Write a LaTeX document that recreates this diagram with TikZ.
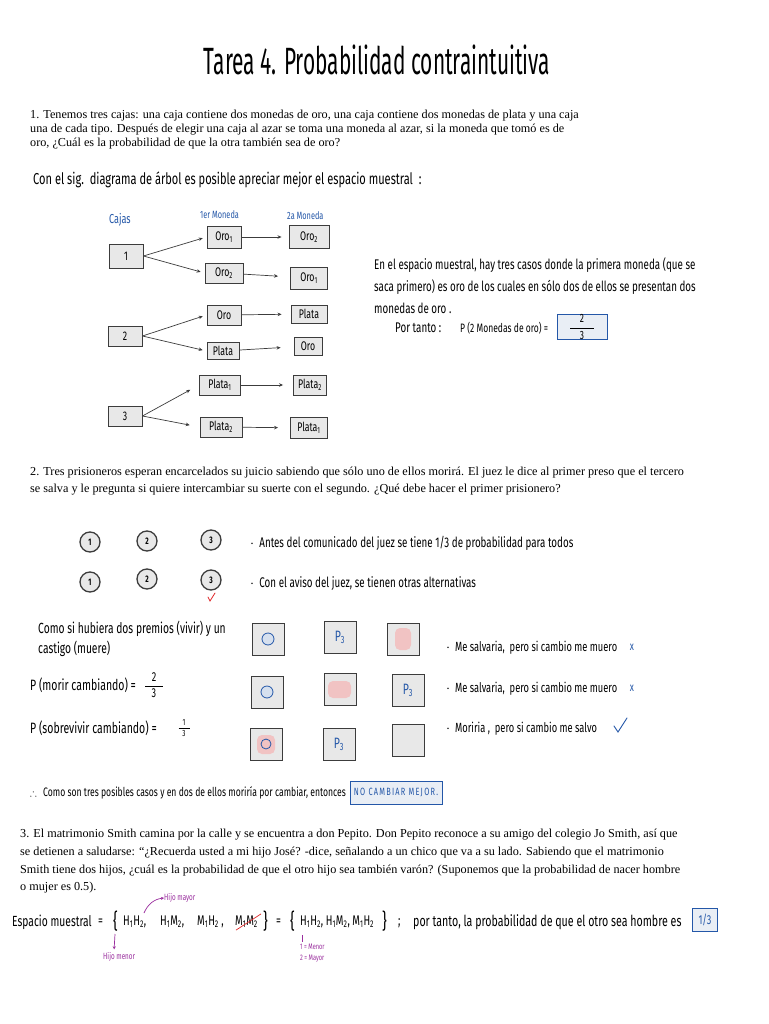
\documentclass[tikz,border=0pt]{standalone}
\usepackage{amsmath,amssymb}
\usepackage{fontspec}
\setmainfont{Liberation Serif}
\newfontfamily\handfont[FakeStretch=0.7]{Fira Sans}
\newfontfamily\titlefont[FakeStretch=0.55]{Fira Sans}
\usetikzlibrary{arrows.meta,calc}
\definecolor{inkblue}{HTML}{2457A8}
\definecolor{boxgray}{HTML}{E8E8E8}
\definecolor{edgegray}{HTML}{3C3C3C}
\definecolor{answerfill}{HTML}{E9EEF5}
\definecolor{blobpink}{HTML}{F1C3C3}
\definecolor{circfill}{HTML}{D6E0EE}
\definecolor{inkred}{HTML}{E0282A}
\definecolor{inkpurple}{HTML}{9A2E9E}
\newcommand{\handat}[2]{\handfont\fontsize{#1}{#2}\selectfont}
\newcommand{\handfrac}[3]{$\displaystyle\frac{\text{\makebox[#1]{#2}}}{\text{#3}}$}

\begin{document}
\begin{tikzpicture}[x=1pt,y=-1pt,
  treebox/.style={draw=edgegray,fill=boxgray,line width=0.9pt,minimum width=34pt,minimum height=20pt,inner sep=1pt,font=\handat{12.5pt}{14pt}},
  prisoner/.style={circle,draw=edgegray,fill=boxgray,line width=1.3pt,minimum size=20pt,inner sep=0pt,font=\handat{9.5pt}{10pt}\bfseries},
  door/.style={draw=edgegray,fill=boxgray,line width=1pt,minimum size=32pt,inner sep=0pt},
  answer/.style={draw=inkblue,fill=answerfill,line width=0.9pt,text=inkblue,inner sep=2pt},
  hand/.style={anchor=west,inner sep=0pt,font=\handat{15pt}{17pt}},
  prose/.style={anchor=north west,align=left,inner sep=0pt},
  branch/.style={-{Stealth[length=4pt,width=3.5pt]},edgegray,line width=0.7pt,shorten >=4pt},
  note/.style={anchor=west,inner sep=0pt,text=inkpurple,font=\handat{9pt}{10pt}}]
\fill[white] (0,0) rectangle (768,1024);
\useasboundingbox (0,0) rectangle (768,1024);
\node[font=\titlefont\fontsize{38pt}{42pt}\selectfont] (title) at (377,60) {Tarea 4. Probabilidad contraintuitiva};

\node[prose,font=\fontsize{12.2pt}{14pt}\selectfont] (q1) at (30,110) {1. Tenemos tres cajas: una caja contiene dos monedas de oro, una caja contiene dos monedas de plata y una caja\\
una de cada tipo. Después de elegir una caja al azar se toma una moneda al azar, si la moneda que tomó es de\\
oro, ¿Cuál es la probabilidad de que la otra también sea de oro?};
\node[hand,font=\handat{15.8pt}{18pt}] (intro) at (33,180) {Con el sig.\ \ diagrama de árbol es posible apreciar mejor el espacio muestral \ :};

\node[hand,text=inkblue,font=\handat{13pt}{15pt}] (hcaja) at (109,220) {Cajas};
\node[hand,text=inkblue,font=\handat{10.5pt}{12pt}] (hfirst) at (200,215) {1er Moneda};
\node[hand,text=inkblue,font=\handat{10.5pt}{12pt}] (hsecond) at (287,216) {2a Moneda};
\node[treebox,minimum height=24pt] (c1) at (126,256) {1};
\node[treebox] (c2) at (125,336) {2};
\node[treebox] (c3) at (125,416) {3};
\node[treebox,minimum height=22pt] (m11) at (224,237) {Oro\textsubscript{1}};
\node[treebox,minimum width=38pt] (m12) at (224,273) {Oro\textsubscript{2}};
\node[treebox] (m21) at (224,315) {Oro};
\node[treebox,minimum width=32pt,minimum height=17pt] (m22) at (223,351) {Plata};
\node[treebox,minimum width=41pt] (m31) at (220,385) {Plata\textsubscript{1}};
\node[treebox,minimum width=42pt] (m32) at (221,427) {Plata\textsubscript{2}};
\node[treebox,minimum width=40pt,minimum height=23pt] (s11) at (309,237) {Oro\textsubscript{2}};
\node[treebox,minimum width=37pt,minimum height=22pt] (s12) at (309,278) {Oro\textsubscript{1}};
\node[treebox,minimum width=36pt,minimum height=18pt] (s21) at (309,314) {Plata};
\node[treebox,minimum width=28pt,minimum height=18pt] (s22) at (308,346) {Oro};
\node[treebox,minimum width=33pt] (s31) at (310,385) {Plata\textsubscript{2}};
\node[treebox,minimum width=37pt,minimum height=21pt] (s32) at (309,428) {Plata\textsubscript{1}};
\draw[branch] (c1.east) -- (m11.west);
\draw[branch] (c1.east) -- (m12.west);
\draw[branch] (c2.east) -- (m21.west);
\draw[branch] (c2.east) -- (m22.west);
\draw[branch,shorten >=10pt] (c3.east) -- (m31.west);
\draw[branch,shorten >=10pt] (c3.east) -- (m32.west);
\draw[branch,shorten >=7pt] (m11) -- (s11);
\draw[branch,shorten >=12pt] (m12) -- (s12);
\draw[branch,shorten >=9pt] (m21) -- (s21);
\draw[branch,shorten >=13pt] (m22) -- (s22);
\draw[branch,shorten >=10pt] (m31) -- (s31);
\draw[branch,shorten >=12pt] (m32) -- (s32);

\node[prose,font=\handat{14pt}{22pt}] (why) at (374,257) {En el espacio muestral, hay tres casos donde la primera moneda (que se\\
saca primero) es oro de los cuales en sólo dos de ellos se presentan dos\\
monedas de oro .};
\node[hand,font=\handat{14pt}{16pt}] (portanto) at (395,328) {Por tanto :};
\node[hand,font=\handat{12.2pt}{14pt}] (pgold) at (460,328) {P (2 Monedas de oro) =};
\node[answer,minimum width=50pt,minimum height=25pt,inner sep=0pt,text=black,font=\handat{12pt}{12pt}] (a1) at (582,327) {\handfrac{24pt}{2}{3}};

\node[prose,font=\fontsize{12.2pt}{17pt}\selectfont] (q2) at (30,467) {2. Tres prisioneros esperan encarcelados su juicio sabiendo que sólo uno de ellos morirá. El juez le dice al primer preso que el tercero\\
se salva y le pregunta si quiere intercambiar su suerte con el segundo. ¿Qué debe hacer el primer prisionero?};
\node[prisoner] (pa1) at (90,542) {1};
\node[prisoner] (pa2) at (147,541) {2};
\node[prisoner] (pa3) at (211,540) {3};
\node[prisoner] (pb1) at (90,582) {1};
\node[prisoner] (pb2) at (147,579) {2};
\node[prisoner] (pb3) at (211,580) {3};
\draw[inkred,line width=0.8pt,line cap=round] (208,597) -- (210,601) -- (215,593);
\node[hand,font=\handat{14pt}{16pt}] (before) at (250,543) {$\cdot$\ \ Antes del comunicado del juez se tiene 1/3 de probabilidad para todos};
\node[hand,font=\handat{14pt}{16pt}] (after) at (250,584) {$\cdot$\ \ Con el aviso del juez, se tienen otras alternativas};

\node[prose,font=\handat{14.7pt}{20pt}] (prizes) at (38,621) {Como si hubiera dos premios (vivir) y un\\ castigo (muere)};
\node[hand] (pdie) at (30,685) {P (morir cambiando) =};
\node[inner sep=0pt,font=\handat{13pt}{13pt}] (fdie) at (154,685) {\handfrac{18pt}{2}{3}};
\node[hand] (plive) at (30,728) {P (sobrevivir cambiando) =};
\node[inner sep=0pt,font=\handat{9pt}{9pt}] (flive) at (184,728) {\handfrac{11pt}{1}{3}};

\node[door] (sq11) at (268,639) {};
\node[door] (sq12) at (340,637) {};
\node[door] (sq13) at (403,639) {};
\node[door] (sq21) at (267,692) {};
\node[door] (sq22) at (340,689) {};
\node[door] (sq23) at (408,690) {};
\node[door] (sq31) at (266,744) {};
\node[door] (sq32) at (339,744) {};
\node[door] (sq33) at (408,740) {};
\draw[inkblue,fill=circfill,line width=0.8pt] (sq11.center) circle (6pt);
\node[text=inkblue,font=\handat{15pt}{16pt}] (p3a) at (sq12) {P\textsubscript{3}};
\fill[blobpink,rounded corners=5pt] ($(sq13.center)+(-8,-11)$) rectangle ($(sq13.center)+(8,11)$);
\draw[inkblue,fill=circfill,line width=0.8pt] (sq21.center) circle (6pt);
\fill[blobpink,rounded corners=5pt] ($(sq22.center)+(-12,-8)$) rectangle ($(sq22.center)+(11,9)$);
\node[text=inkblue,font=\handat{15pt}{16pt}] (p3b) at (sq23) {P\textsubscript{3}};
\fill[blobpink,rounded corners=5pt] ($(sq31.center)+(-9,-9)$) rectangle ($(sq31.center)+(9,10)$);
\draw[inkblue,line width=0.8pt] (sq31.center) circle (5pt);
\node[text=inkblue,font=\handat{15pt}{16pt}] (p3c) at (sq32) {P\textsubscript{3}};

\node[hand,font=\handat{13.3pt}{16pt}] (case1) at (446,648) {$\cdot$\ \ Me salvaria, \ pero si cambio me muero};
\node[hand,font=\handat{13.3pt}{16pt}] (case2) at (446,689) {$\cdot$\ \ Me salvaria, \ pero si cambio me muero};
\node[hand,font=\handat{13.3pt}{16pt}] (case3) at (446,729) {$\cdot$\ \ Moriria , \ pero si cambio me salvo};
\node[text=inkblue,font=\handat{12pt}{13pt}] (bad1) at (632,647) {x};
\node[text=inkblue,font=\handat{12pt}{13pt}] (bad2) at (632,688) {x};
\draw[inkblue,line width=0.9pt,line cap=round] (614,726) -- (618,732) -- (627,718);

\node[anchor=west,inner sep=0pt] (ergo) at (30,793) {$\therefore$};
\node[hand,font=\handat{12.3pt}{14pt}] (summary) at (43,793) {Como son tres posibles casos y en dos de ellos moriría por cambiar, entonces};
\node[answer,minimum width=92pt,minimum height=23pt,font=\handat{10.5pt}{11pt}\addfontfeature{LetterSpace=12}] (a2) at (396,793) {NO CAMBIAR MEJOR.};

\node[prose,font=\fontsize{12.2pt}{17.7pt}\selectfont] (q3) at (20,829) {3. El matrimonio Smith camina por la calle y se encuentra a don Pepito. Don Pepito reconoce a su amigo del colegio Jo Smith, así que\\
se detienen a saludarse: “¿Recuerda usted a mi hijo José? -dice, señalando a un chico que va a su lado. Sabiendo que el matrimonio\\
Smith tiene dos hijos, ¿cuál es la probabilidad de que el otro hijo sea también varón? (Suponemos que la probabilidad de nacer hombre\\
o mujer es 0.5).};

\node[hand,font=\handat{14.7pt}{16pt}] (esp) at (12,922) {Espacio muestral};
\node[hand,font=\handat{14pt}{16pt}] (eq1) at (98,922) {=};
\node[hand,font=\handat{21pt}{23pt}] (br1) at (113,921) {\{};
\node[hand,font=\handat{14pt}{16pt}] (e1) at (123,922) {H\textsubscript{1}H\textsubscript{2},};
\node[hand,font=\handat{14pt}{16pt}] (e2) at (160,922) {H\textsubscript{1}M\textsubscript{2},};
\node[hand,font=\handat{14pt}{16pt}] (e3) at (197,922) {M\textsubscript{1}H\textsubscript{2} ,};
\node[hand,font=\handat{14pt}{16pt}] (e4) at (235,922) {M\textsubscript{1}M\textsubscript{2}};
\draw[inkred,line width=0.7pt] ($(e4.south west)+(1,2)$) -- ($(e4.north east)+(3,-2)$);
\node[hand,font=\handat{21pt}{23pt}] (br2) at (263,921) {\}};
\node[hand,font=\handat{14pt}{16pt}] (eq2) at (276,922) {=};
\node[hand,font=\handat{21pt}{23pt}] (br3) at (290,921) {\{};
\node[hand,font=\handat{14pt}{16pt}] (e5) at (300,922) {H\textsubscript{1}H\textsubscript{2}, H\textsubscript{1}M\textsubscript{2}, M\textsubscript{1}H\textsubscript{2}};
\node[hand,font=\handat{21pt}{23pt}] (br4) at (382,921) {\}};
\node[hand,font=\handat{14pt}{16pt}] (semi) at (398,923) {;};
\node[hand,font=\handat{15.2pt}{17pt}] (concl) at (413,922) {por tanto, la probabilidad de que el otro sea hombre es};
\node[answer,minimum width=25pt,minimum height=23pt,font=\handat{13pt}{14pt}] (a3) at (705,920) {1/3};

\node[note] (older) at (164,898) {Hijo mayor};
\node[note] (younger) at (103,957) {Hijo menor};
\node[note,font=\handat{8pt}{9pt}] (lowone) at (300,947) {1 = Menor};
\node[note,font=\handat{8pt}{9pt}] (hightwo) at (300,959) {2 = Mayor};
\coordinate (h2top) at (144,913);
\coordinate (h1bot) at (115,934);
\coordinate (h1tick) at (302,935);
\draw[inkpurple,line width=0.7pt,-{Stealth[length=3pt,width=3pt]}] (h2top) to[bend left=30] (older.west);
\draw[inkpurple,line width=0.7pt,-{Stealth[length=3pt,width=3pt]}] (h1bot) -- ($(younger.north)+(-5,-3)$);
\draw[inkpurple,line width=0.7pt] (h1tick) -- ($(lowone.north west)+(2,-2)$);
\end{tikzpicture}
\end{document}
